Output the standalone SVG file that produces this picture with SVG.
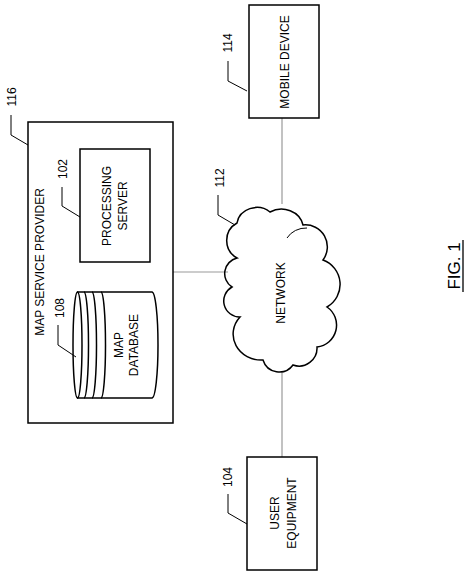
<svg xmlns="http://www.w3.org/2000/svg" width="474" height="576" viewBox="0 0 474 576">
<style>
.box{fill:none;stroke:#000;stroke-width:1.5}
.lead{fill:none;stroke:#000;stroke-width:1}
.conn{fill:none;stroke:#999;stroke-width:1.2}
text{font-family:"Liberation Sans",Arial,sans-serif;font-size:12px;fill:#000;text-anchor:middle;dominant-baseline:central}
.fig{font-size:17px}
</style>
<rect width="474" height="576" fill="#fff"/>
<g id="connectors">
<line class="conn" x1="173" y1="272" x2="228" y2="272"/>
<line class="conn" x1="282" y1="118" x2="282" y2="204"/>
<line class="conn" x1="282" y1="372" x2="282" y2="457"/>
</g>
<g id="map-service-provider">
<rect class="box" x="28" y="122" width="145" height="301"/>
<text transform="translate(40,262) rotate(-90)">MAP SERVICE PROVIDER</text>
<path class="lead" d="M11,115 L11,135 L28,145"/>
<text transform="translate(12,97) rotate(-90)">116</text>
</g>
<g id="processing-server">
<rect class="box" x="80" y="149" width="70" height="113"/>
<text transform="translate(107,206) rotate(-90)">PROCESSING</text>
<text transform="translate(123,206) rotate(-90)">SERVER</text>
<path class="lead" d="M62,187 L62,206 L80,217"/>
<text transform="translate(63,169) rotate(-90)">102</text>
</g>
<g id="map-database">
<path class="box" d="M77,292 L152,292 A6,53 0 0 1 152,398 L77,398"/>
<ellipse class="box" cx="77.5" cy="345" rx="4.5" ry="53"/>
<path class="box" d="M84,292 A4.5,53 0 0 1 84,398"/>
<path class="box" d="M92,292 A4.5,53 0 0 1 92,398"/>
<path class="box" d="M101,292 A4.5,53 0 0 1 101,398"/>
<text transform="translate(119,345) rotate(-90)">MAP</text>
<text transform="translate(134,345) rotate(-90)">DATABASE</text>
<path class="lead" d="M58,325 L58,345 L76,357"/>
<text transform="translate(60,308) rotate(-90)">108</text>
</g>
<g id="network">
<path class="box" d="M237,223 A20,18 0 0 1 270,212 A22,20 0 0 1 303,225 A22,22 0 0 1 323,260 A26,26 0 0 1 327,307 A22,22 0 0 1 317,347 A18,18 0 0 1 293,365 A17,17 0 0 1 263,360 A28,26 0 0 1 240,317 A16,16 0 0 1 232,287 A16,16 0 0 1 237,258 A20,20 0 0 1 237,223 Z"/>
<path class="lead" d="M287,238 A22,20 0 0 1 307,228"/>
<text transform="translate(281,293) rotate(-90)">NETWORK</text>
<path class="lead" d="M218,195 L218,215 L235,225"/>
<text transform="translate(220,178) rotate(-90)">112</text>
</g>
<g id="mobile-device">
<rect class="box" x="249" y="5" width="70" height="113"/>
<text transform="translate(285,62) rotate(-90)">MOBILE DEVICE</text>
<path class="lead" d="M228,61 L228,81 L247,91"/>
<text transform="translate(228,43) rotate(-90)">114</text>
</g>
<g id="user-equipment">
<rect class="box" x="247" y="457" width="70" height="113"/>
<text transform="translate(275,513) rotate(-90)">USER</text>
<text transform="translate(292,513) rotate(-90)">EQUIPMENT</text>
<path class="lead" d="M228,494 L228,513 L247,524"/>
<text transform="translate(228,477) rotate(-90)">104</text>
</g>
<g id="fig-label">
<text class="fig" transform="translate(454,266) rotate(-90)">FIG. 1</text>
<line x1="463" y1="240" x2="463" y2="292" stroke="#000" stroke-width="1.3"/>
</g>
</svg>
